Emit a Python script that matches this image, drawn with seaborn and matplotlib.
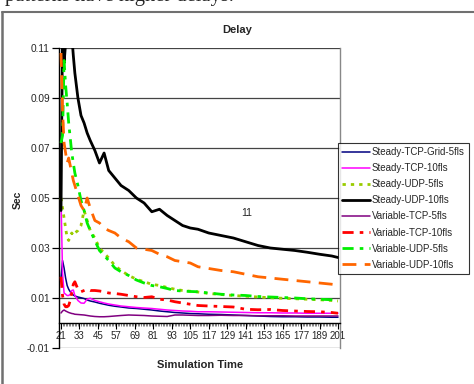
import matplotlib
matplotlib.use("Agg")
import matplotlib.pyplot as plt
from matplotlib.lines import Line2D
from matplotlib.ticker import FixedLocator
import seaborn as sns
import pandas as pd

# ---- data ----
time = [21, 22, 23, 24, 25, 26, 27, 28, 29, 30, 32, 34, 36, 38, 40, 43, 46, 49, 52, 56,
        60, 65, 70, 75, 80, 85, 90, 95, 100, 105, 110, 117, 125, 133, 141, 149, 157, 165,
        173, 181, 189, 197, 201]

steady_tcp_grid_5 = [0.018, 0.025, 0.022, 0.018, 0.015, 0.0135, 0.0125, 0.0118, 0.0112, 0.0108,
                     0.0104, 0.0101, 0.0098, 0.0092, 0.0088, 0.0084, 0.0079, 0.0075, 0.0071, 0.0067,
                     0.0064, 0.0060, 0.0058, 0.0055, 0.0052, 0.0048, 0.0045, 0.0042, 0.0040, 0.0038,
                     0.0037, 0.0035, 0.0034, 0.0032, 0.0030, 0.0028, 0.0026, 0.0025, 0.0025, 0.0024,
                     0.0024, 0.0023, 0.0023]
steady_tcp_10 = [0.050, 0.020, 0.012, 0.0115, 0.011, 0.011, 0.0115, 0.013, 0.0132, 0.011,
                 0.009, 0.008, 0.0079, 0.0095, 0.0099, 0.009, 0.0085, 0.008, 0.0076, 0.0072,
                 0.0068, 0.0065, 0.0062, 0.0060, 0.0058, 0.0055, 0.0052, 0.0050, 0.0048, 0.0047,
                 0.0045, 0.0045, 0.0044, 0.0043, 0.0042, 0.0041, 0.0041, 0.0040, 0.0040, 0.0039,
                 0.0039, 0.0039, 0.0039]
steady_udp_5 = [0.050, 0.046, 0.042, 0.038, 0.034, 0.033, 0.035, 0.036, 0.035, 0.036,
                0.037, 0.039, 0.045, 0.041, 0.037, 0.034, 0.030, 0.028, 0.026, 0.023,
                0.021, 0.019, 0.0175, 0.0165, 0.0155, 0.015, 0.0142, 0.0135, 0.013, 0.0127,
                0.0124, 0.0118, 0.0114, 0.011, 0.0107, 0.0104, 0.0101, 0.0099, 0.0097, 0.0095,
                0.0093, 0.0090, 0.0088]
steady_udp_10 = [0.045, 0.118, 0.104, 0.112, 0.125, 0.130, 0.125, 0.115, 0.107, 0.100,
                 0.090, 0.083, 0.080, 0.076, 0.073, 0.069, 0.064, 0.068, 0.061, 0.058,
                 0.055, 0.053, 0.050, 0.048, 0.0445, 0.0455, 0.043, 0.041, 0.039, 0.038,
                 0.0375, 0.036, 0.035, 0.034, 0.0325, 0.031, 0.030, 0.0295, 0.029, 0.0283,
                 0.0275, 0.0268, 0.0262]
variable_tcp_5 = [0.0040, 0.0048, 0.0052, 0.0048, 0.0045, 0.0042, 0.0040, 0.0038, 0.0037, 0.0035,
                  0.0034, 0.0033, 0.0032, 0.0030, 0.0028, 0.0026, 0.0025, 0.0025, 0.0026, 0.0028,
                  0.0030, 0.0032, 0.0031, 0.0030, 0.0028, 0.0027, 0.0026, 0.0032, 0.0032, 0.0031,
                  0.0030, 0.0030, 0.0031, 0.0030, 0.0030, 0.0029, 0.0029, 0.0029, 0.0028, 0.0028,
                  0.0028, 0.0028, 0.0028]
variable_tcp_10 = [0.0185, 0.011, 0.0075, 0.0065, 0.0065, 0.007, 0.009, 0.012, 0.0155, 0.0165,
                   0.0135, 0.0125, 0.013, 0.0135, 0.013, 0.013, 0.0128, 0.0125, 0.012, 0.0118,
                   0.0115, 0.011, 0.0105, 0.0102, 0.0105, 0.0095, 0.0092, 0.0085, 0.008, 0.0075,
                   0.007, 0.0068, 0.0066, 0.0064, 0.0055, 0.0053, 0.0054, 0.0050, 0.0048, 0.0046,
                   0.0045, 0.0042, 0.0039]
variable_udp_5 = [0.072, 0.075, 0.105, 0.095, 0.088, 0.080, 0.074, 0.068, 0.064, 0.060,
                  0.055, 0.049, 0.045, 0.040, 0.037, 0.033, 0.029, 0.027, 0.025, 0.022,
                  0.0205, 0.019, 0.0172, 0.016, 0.015, 0.0145, 0.0138, 0.013, 0.0128, 0.0126,
                  0.0125, 0.012, 0.0115, 0.0112, 0.011, 0.0106, 0.0104, 0.0102, 0.0100, 0.0097,
                  0.0095, 0.0093, 0.0090]
variable_udp_10 = [0.108, 0.085, 0.072, 0.068, 0.064, 0.066, 0.063, 0.060, 0.057, 0.055,
                   0.051, 0.047, 0.045, 0.050, 0.046, 0.041, 0.040, 0.038, 0.037, 0.036,
                   0.034, 0.0325, 0.030, 0.0295, 0.029, 0.0275, 0.0265, 0.025, 0.0245, 0.024,
                   0.0225, 0.0218, 0.021, 0.0205, 0.0195, 0.0185, 0.018, 0.0175, 0.017, 0.0165,
                   0.016, 0.0155, 0.0152]

series_names = ["Steady-TCP-Grid-5fls", "Steady-TCP-10fls", "Steady-UDP-5fls", "Steady-UDP-10fls",
                "Variable-TCP-5fls", "Variable-TCP-10fls", "Variable-UDP-5fls", "Variable-UDP-10fls"]
series_values = [steady_tcp_grid_5, steady_tcp_10, steady_udp_5, steady_udp_10,
                 variable_tcp_5, variable_tcp_10, variable_udp_5, variable_udp_10]

y_ticks = [-0.01, 0.01, 0.03, 0.05, 0.07, 0.09, 0.11]
y_tick_labels = ["-0.01", "0.01", "0.03", "0.05", "0.07", "0.09", "0.11"]
x_ticks = [21, 33, 45, 57, 69, 81, 93, 105, 117, 129, 141, 153, 165, 177, 189, 201]
x_tick_labels = ["21", "33", "45", "57", "69", "81", "93", "105", "117", "129", "141",
                 "153", "165", "177", "189", "201"]

# ---- styles ----
styles = {
    "Steady-TCP-Grid-5fls": dict(color="#000080", lw=1.1, dashes=None),
    "Steady-TCP-10fls": dict(color="#FF00FF", lw=1.1, dashes=None),
    "Steady-UDP-5fls": dict(color="#99CC00", lw=2.0, dashes=(1.2, 1.8)),
    "Steady-UDP-10fls": dict(color="#000000", lw=2.0, dashes=None),
    "Variable-TCP-5fls": dict(color="#800080", lw=1.1, dashes=None),
    "Variable-TCP-10fls": dict(color="#FF0000", lw=2.0, dashes=(4, 2.2, 1.3, 2.2)),
    "Variable-UDP-5fls": dict(color="#00EE00", lw=2.0, dashes=(4, 2.2, 1.3, 2.2)),
    "Variable-UDP-10fls": dict(color="#FF6600", lw=2.0, dashes=(5, 3)),
}

sns.set_theme(style="white")
plt.rcParams["font.family"] = ["Liberation Sans", "DejaVu Sans"]

W, H = 474, 384
fig = plt.figure(figsize=(W / 100, H / 100), dpi=100)
ax = fig.add_axes([59 / W, 1 - 348 / H, (340 - 59) / W, 300 / H])

df = pd.DataFrame({"time": time})
for name, vals in zip(series_names, series_values):
    df[name] = vals
long = df.melt(id_vars="time", var_name="series", value_name="delay")

handles = []
for name in series_names:
    st = styles[name]
    sub = long[long["series"] == name]
    sns.lineplot(data=sub, x="time", y="delay", ax=ax, color=st["color"], linewidth=st["lw"],
                 estimator=None, sort=False, legend=False)
    ln = ax.lines[-1]
    if st["dashes"] is not None:
        ln.set_dashes(st["dashes"])
    ln.set_zorder(3)
    h = Line2D([], [], color=st["color"], lw=st["lw"])
    if st["dashes"] is not None:
        h.set_dashes(st["dashes"])
    handles.append(h)

ax.set_xlim(19.7, 202.3)
ax.set_ylim(-0.01, 0.11)
ax.set_yticks(y_ticks)
ax.set_yticklabels(y_tick_labels)
ax.xaxis.set_major_locator(FixedLocator(x_ticks))
ax.set_xticklabels(x_tick_labels, rotation=90, va="top", ha="center")
ax.xaxis.set_minor_locator(FixedLocator(list(range(21, 202))))
ax.set_xlabel("")
ax.set_ylabel("")

ax.grid(axis="y", color="#444444", lw=0.9)
ax.grid(axis="x", visible=False)
ax.set_axisbelow(True)

ax.spines["bottom"].set_position(("data", 0))
ax.spines["bottom"].set_color("black")
ax.spines["bottom"].set_linewidth(1.0)
ax.spines["left"].set_color("black")
ax.spines["left"].set_linewidth(1.0)
ax.spines["top"].set_visible(False)
ax.spines["right"].set_color("#888888")
ax.spines["right"].set_linewidth(1.0)

ax.tick_params(axis="y", which="major", direction="out", length=5, width=0.9, color="black",
               labelsize=7.3, pad=1.5, left=True)
ax.tick_params(axis="x", which="major", direction="out", length=4, width=0.8, color="black",
               labelsize=7, pad=1.5, bottom=True)
ax.tick_params(axis="x", which="minor", direction="out", length=2.5, width=0.5, color="#555555",
               bottom=True)

# texts
fig.text(237 / W, 1 - 30 / H, "Delay", ha="center", va="center", fontsize=8, fontweight="bold")
fig.text(18 / W, 1 - 200 / H, "Sec", ha="center", va="center", fontsize=7.5, fontweight="bold",
         rotation=90)
fig.text(200 / W, 1 - 365 / H, "Simulation Time", ha="center", va="center", fontsize=8,
         fontweight="bold")
fig.text(247 / W, 1 - 213 / H, "11", ha="center", va="center", fontsize=7.5)
fig.text(5 / W, 1 - 1.5 / H, "patterns have higher delays.", ha="left", va="baseline",
         fontsize=14.8, family=["Liberation Serif", "DejaVu Serif"])

# outer frame
fig.add_artist(Line2D([2 / W, 2 / W], [0, 1 - 12 / H], transform=fig.transFigure,
                      color="#707070", lw=1.8))
fig.add_artist(Line2D([2 / W, 1], [1 - 12 / H, 1 - 12 / H], transform=fig.transFigure,
                      color="#707070", lw=1.5))

leg = fig.legend(handles=handles, labels=series_names, loc="upper left",
                 bbox_to_anchor=(338 / W, 1 - 143 / H), fontsize=7, frameon=True,
                 fancybox=False, edgecolor="black", handlelength=2.8, handletextpad=0.2,
                 labelspacing=0.62, borderpad=0.45, borderaxespad=0)
leg.get_frame().set_linewidth(0.8)
leg.get_frame().set_facecolor("white")

fig.savefig("out.png", dpi=100)
